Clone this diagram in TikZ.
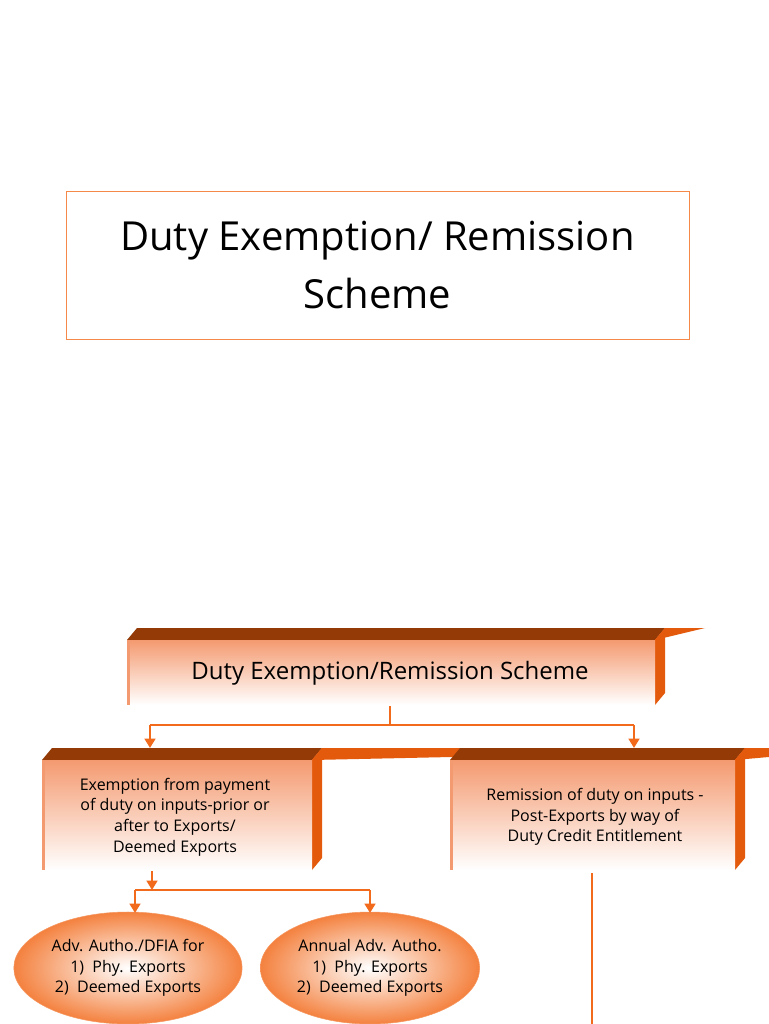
\documentclass[tikz,border=0pt]{standalone}
\usepackage{fontspec}
\setmainfont{Open Sans}
\usetikzlibrary{shapes.geometric,arrows.meta}
\definecolor{org}{HTML}{F26B1D}
\definecolor{lorg}{HTML}{F49A70}
\definecolor{dbrown}{HTML}{933A06}
\definecolor{sideor}{HTML}{E45A0C}
\tikzset{
  conn/.style={draw=org,line width=2pt},
  arr/.style={conn,-{Triangle[length=7pt,width=8pt]}},
  txt/.style={align=center,font=\fontsize{12}{15.5}\selectfont,text=black},
}
\newcommand{\dbox}[5]{% x1 y1 x2 y2 name
  \fill[dbrown] (#1,#2) -- (#1+10,#2-12) -- (#3+10,#2-12) -- (#3,#2) -- cycle;
  \fill[sideor] (#3,#2) -- (#3+10,#2-12) -- (#4+0,#2-12) -- cycle;
  \fill[sideor] (#3,#2) -- (#3+10,#2-12) -- (#3+10,#4-12) -- (#3,#4) -- cycle;
  \shade[top color=lorg,bottom color=white] (#1,#2) rectangle (#3,#4);
  \fill[lorg] (#1,#2) rectangle (#1+3,#4);
  \coordinate (#5) at ({(#1+#3)/2},{(#2+#4)/2});
}
\begin{document}
\begin{tikzpicture}[x=0.75pt,y=-0.75pt]
\useasboundingbox (0,0) rectangle (768,1024);
\fill[white] (0,0) rectangle (768,1024);
\node[draw=org!80,line width=0.6pt,minimum width=623*0.75pt,minimum height=148*0.75pt,align=center,font=\fontsize{30}{43}\selectfont] (title) at (377.5,265) {Duty Exemption/ Remission\\Scheme};

\dbox{127}{640}{655}{705}{top}
\dbox{42}{760}{312}{870}{lb}
\dbox{450}{760}{735}{870}{rb}
\node[txt,font=\fontsize{18}{22}\selectfont] (toptxt) at (390,673) {Duty Exemption/Remission Scheme};
\node[txt] (lbt) at (175,817) {Exemption from payment\\of duty on inputs-prior or\\after to Exports/\\Deemed Exports};
\node[txt] (rbt) at (595,817) {Remission of duty on inputs -\\Post-Exports by way of\\Duty Credit Entitlement};

\node[ellipse,minimum width=194*0.75pt,minimum height=112*0.75pt,inner color=white,outer color=org!85,draw=org!70,txt] (e1) at (128,968) {Adv. Autho./DFIA for\\1)\ \ Phy. Exports\\2)\ \ Deemed Exports};
\node[ellipse,minimum width=216*0.75pt,minimum height=112*0.75pt,inner color=white,outer color=org!85,draw=org!70,txt] (e2) at (370,968) {Annual Adv. Autho.\\1)\ \ Phy. Exports\\2)\ \ Deemed Exports};

\coordinate (j1) at (390,706);
\coordinate (j2) at (390,725);
\coordinate (l1) at (150,725);
\coordinate (r1) at (634,725);
\coordinate (l1e) at (150,748);
\coordinate (r1e) at (634,748);
\draw[conn] (j1) -- (j2);
\draw[conn] (l1) -- (r1);
\draw[arr] (l1) -- (l1e);
\draw[arr] (r1) -- (r1e);
\coordinate (k1) at (152,871);
\coordinate (k2) at (152,890);
\coordinate (a1) at (135,890);
\coordinate (a2) at (370,890);
\coordinate (a1e) at (135,913);
\coordinate (a2e) at (370,913);
\draw[arr] (k1) -- (k2);
\draw[conn] (a1) -- (a2);
\draw[arr] (a1) -- (a1e);
\draw[arr] (a2) -- (a2e);
\coordinate (v1) at (592,873);
\coordinate (v2) at (592,1024);
\draw[conn] (v1) -- (v2);
\end{tikzpicture}
\end{document}
